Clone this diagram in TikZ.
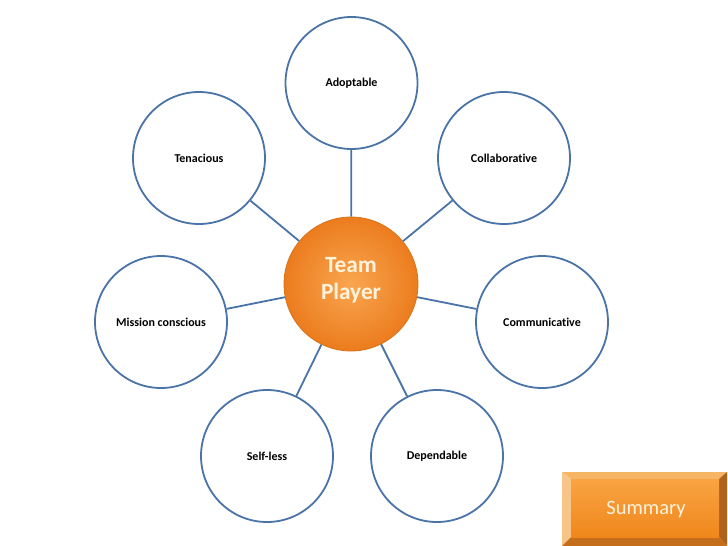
\documentclass[tikz,border=0pt]{standalone}
\usepackage{fontspec}
\setmainfont{Carlito}[Ligatures={NoCommon}]
\definecolor{linecol}{HTML}{4A74A8}
\definecolor{hubedge}{HTML}{D87418}
\definecolor{hubin}{HTML}{F9A650}
\definecolor{hubout}{HTML}{EC7C1E}
\definecolor{hubtext}{HTML}{FFF3DE}
\definecolor{facetop}{HTML}{F9A443}
\definecolor{facebot}{HTML}{F0871C}
\definecolor{bevtop}{HTML}{F6B565}
\definecolor{bevleft}{HTML}{F8C588}
\definecolor{bevright}{HTML}{AE621C}
\definecolor{bevbot}{HTML}{C46E1C}
\begin{document}
\begin{tikzpicture}[x=1pt,y=-1pt]
\useasboundingbox (0,0) rectangle (728,546);
\tikzset{
  leaf/.style={circle, draw=linecol, line width=1.8pt, fill=white, minimum size=132pt, inner sep=0pt,
    font=\bfseries\fontsize{12}{14}\selectfont},
  conn/.style={draw=linecol, line width=1.8pt},
  hub/.style={circle, draw=hubedge, line width=0.8pt, inner color=hubin, outer color=hubout,
    minimum size=134pt, inner sep=0pt},
  hubtxt/.style={align=center, text=hubtext, inner sep=0pt,
    font=\bfseries\fontsize{23.3}{27}\selectfont},
  sumtext/.style={text=hubtext, font=\fontsize{20.5}{24}\selectfont, inner sep=0pt}
}
% nodes
\node[hub] (hub) at (351,284) {};
\node[hubtxt] (hublabel) at (351,280) {Team\\Player};
\node[leaf] (adopt) at (351.5,83) {Adoptable};
\node[leaf] (collab) at (504,158) {Collaborative};
\node[leaf] (comm) at (542,322) {Communicative};
\node[leaf] (dep) at (437,456) {Dependable};
\node[leaf] (self) at (267,456) {Self-less};
\node[leaf] (mission) at (161,322) {Mission conscious};
\node[leaf] (ten) at (199,158) {Tenacious};
% connectors
\foreach \n in {adopt,collab,comm,dep,self,mission,ten}
  \draw[conn] (hub) -- (\n);
% summary button
\fill[bevtop] (562,472) -- (727,472) -- (719,479) -- (571,479) -- cycle;
\fill[bevleft] (562,472) -- (571,479) -- (571,537) -- (562,546) -- cycle;
\fill[bevright] (727,472) -- (727,546) -- (719,537) -- (719,479) -- cycle;
\fill[bevbot] (562,546) -- (571,537) -- (719,537) -- (727,546) -- cycle;
\shade[top color=facetop, bottom color=facebot] (571,479) rectangle (719,537);
\node[sumtext] (summary) at (646,509) {Summary};
\end{tikzpicture}
\end{document}
